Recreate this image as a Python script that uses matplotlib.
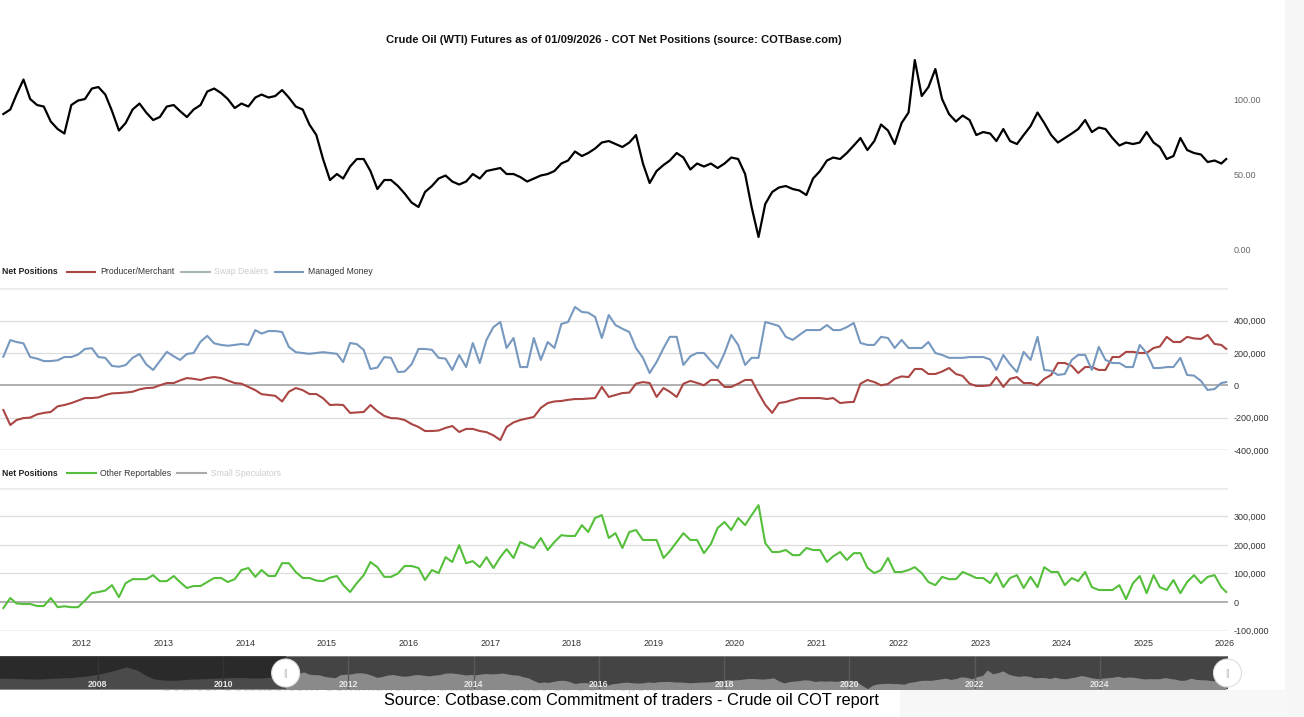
import numpy as np
import pandas as pd
import matplotlib
matplotlib.use('Agg')
import matplotlib.pyplot as plt
from matplotlib.patches import Ellipse, Rectangle
from matplotlib.lines import Line2D

# ---- data (monthly) ----
dates = list(pd.date_range('2011-01-01', '2025-12-01', freq='MS') + pd.Timedelta(days=14)) + [pd.Timestamp('2026-01-06')]

price = [90, 93, 103, 113, 100, 96, 95, 85, 80, 77, 96, 99,
         100, 107, 108, 103, 92, 79, 84, 93, 97, 91, 86, 88,
         95, 96, 92, 88, 93, 96, 105, 107, 104, 100, 94, 97,
         95, 101, 103, 101, 102, 106, 101, 95, 93, 83, 76, 60,
         46, 50, 47, 55, 60, 60, 52, 40, 46, 46, 42, 37,
         31, 28, 38, 42, 47, 49, 45, 43, 45, 50, 47, 52,
         53, 54, 50, 50, 48, 45, 47, 49, 50, 52, 57, 59,
         65, 62, 64, 67, 71, 72, 70, 68, 71, 76, 57, 44,
         52, 56, 59, 64, 61, 53, 57, 55, 57, 54, 57, 61,
         60, 50, 28, 8, 30, 38, 41, 42, 40, 39, 36, 47,
         52, 59, 61, 60, 64, 69, 74, 66, 72, 83, 79, 70,
         84, 91, 126, 102, 108, 120, 100, 90, 85, 89, 86, 76,
         78, 77, 72, 80, 72, 70, 76, 82, 91, 84, 76, 71,
         74, 77, 80, 86, 78, 81, 80, 74, 69, 71, 70, 71,
         78, 71, 68, 60, 62, 74, 66, 64, 63, 58, 59, 57,
         60]

producer = [-153, -246, -215, -203, -200, -180, -171, -165, -130, -122, -110, -95,
            -79, -79, -75, -60, -50, -48, -45, -40, -25, -17, -15, 0,
            14, 14, 30, 45, 40, 33, 45, 51, 45, 30, 14, 10,
            -10, -30, -55, -60, -65, -100, -40, -17, -30, -54, -54, -80,
            -122, -120, -122, -171, -168, -165, -122, -160, -190, -203, -205, -215,
            -240, -258, -283, -283, -280, -264, -252, -289, -270, -270, -283, -290,
            -310, -339, -258, -230, -215, -205, -196, -140, -110, -100, -97, -90,
            -85, -85, -82, -79, -10, -72, -60, -48, -45, 10, 20, 14,
            -72, -17, -40, -72, 10, 27, 15, 0, 33, 33, -10, -10,
            10, 33, 33, -48, -120, -171, -110, -103, -90, -79, -79, -79,
            -79, -85, -79, -110, -105, -103, 10, 33, 20, 0, 8, 40,
            55, 51, 101, 101, 70, 70, 85, 107, 70, 58, 10, -4,
            -4, 0, 51, -10, 40, 51, 14, 14, 0, 40, 64, 138,
            138, 120, 76, 113, 113, 95, 95, 175, 175, 207, 207, 200,
            200, 231, 240, 300, 268, 268, 300, 290, 287, 312, 256, 250,
            225]

managed_money = [177, 280, 268, 260, 175, 165, 150, 150, 155, 175, 175, 190,
                 225, 230, 175, 170, 120, 115, 125, 170, 194, 130, 95, 150,
                 207, 180, 157, 194, 200, 270, 306, 260, 250, 245, 250, 256,
                 250, 342, 320, 336, 336, 330, 238, 205, 200, 195, 200, 205,
                 200, 195, 144, 262, 255, 219, 101, 110, 175, 170, 82, 85,
                 130, 225, 225, 220, 170, 165, 95, 188, 113, 262, 138, 281,
                 360, 392, 231, 293, 113, 113, 293, 157, 268, 231, 380, 392,
                 485, 454, 450, 423, 293, 435, 373, 350, 330, 230, 170, 76,
                 144, 230, 300, 300, 126, 180, 200, 200, 150, 107, 200, 312,
                 250, 126, 170, 170, 392, 380, 367, 300, 281, 312, 342, 342,
                 342, 373, 342, 342, 360, 386, 262, 250, 250, 300, 293, 231,
                 281, 231, 231, 231, 268, 200, 188, 170, 170, 170, 175, 175,
                 175, 160, 95, 188, 130, 82, 207, 157, 300, 95, 90, 64,
                 70, 157, 188, 188, 95, 238, 157, 138, 138, 113, 113, 250,
                 200, 107, 107, 113, 113, 170, 64, 60, 27, -29, -23, 14,
                 20]

other_reportables = [-21, 14, -5, -7, -7, -14, -14, 14, -18, -15, -18, -18,
                     5, 31, 35, 40, 59, 17, 66, 80, 80, 80, 94, 73,
                     73, 91, 70, 49, 56, 56, 70, 84, 84, 70, 80, 112,
                     119, 88, 112, 91, 91, 136, 136, 105, 84, 84, 75, 73,
                     85, 91, 60, 35, 66, 94, 140, 122, 88, 88, 100, 126,
                     126, 119, 77, 112, 101, 157, 140, 199, 136, 143, 122, 157,
                     119, 157, 185, 154, 210, 199, 189, 224, 182, 210, 234, 231,
                     231, 269, 245, 294, 304, 224, 241, 189, 245, 252, 217, 217,
                     217, 154, 178, 210, 241, 217, 217, 171, 203, 259, 280, 252,
                     294, 269, 304, 339, 206, 175, 175, 182, 164, 164, 189, 182,
                     182, 140, 160, 175, 147, 171, 171, 120, 101, 112, 154, 105,
                     105, 112, 122, 101, 70, 59, 88, 80, 80, 105, 95, 84,
                     84, 66, 101, 52, 84, 94, 49, 88, 52, 122, 105, 105,
                     59, 84, 73, 105, 52, 42, 42, 42, 59, 10, 66, 91,
                     31, 94, 52, 42, 77, 31, 70, 94, 66, 88, 94, 52,
                     35]

nav_early_dates = pd.to_datetime(['2006-06-01', '2006-09-01', '2007-01-01', '2007-04-01', '2007-08-01',
                                  '2007-11-15', '2008-02-01', '2008-04-15', '2008-06-15', '2008-08-15',
                                  '2008-10-01', '2008-11-20', '2009-01-15', '2009-03-15', '2009-07-01',
                                  '2009-10-15', '2010-01-15', '2010-04-15', '2010-08-01', '2010-12-01'])
nav_early_price = [74, 72, 68, 72, 78, 90, 105, 125, 145, 125, 95, 70, 62, 60, 68, 72, 76, 78, 74, 85]

years = list(range(2012, 2027))
nav_years = list(range(2008, 2025, 2))

prod = np.array(producer) * 1000
mm = np.array(managed_money) * 1000
other = np.array(other_reportables) * 1000

# ---- figure ----
W, H = 1304, 717
plt.rcParams['font.family'] = ['Liberation Sans', 'DejaVu Sans']

fig = plt.figure(figsize=(W / 100, H / 100), dpi=100)
fig.patch.set_facecolor('white')

def fx(x):
    return x / W

def fy(y):
    return 1 - y / H

def add_ax(top, bottom, right=1228):
    return fig.add_axes([0, 1 - bottom / H, right / W, (bottom - top) / H])

xmin = pd.Timestamp('2010-12-31')
xmax = pd.Timestamp('2026-01-14')

# light grey page edges
fig.add_artist(Rectangle((fx(1285), 0), 1 - fx(1285), 1, transform=fig.transFigure,
                         color='#f6f6f6', zorder=-3))
fig.add_artist(Rectangle((fx(900), 0), fx(1285) - fx(900), fy(690),
                         transform=fig.transFigure, color='#f7f7f7', zorder=-3))

# title
fig.text(fx(614), fy(40), 'Crude Oil (WTI) Futures as of 01/09/2026 - COT Net Positions (source: COTBase.com)',
         ha='center', va='center', fontsize=8.1, fontweight='bold', color='#111111')

# ---- price panel ----
ax_p = add_ax(50, 255)
ax_p.plot(dates, price, color='black', lw=1.6)
ax_p.set_xlim(xmin, xmax)
ax_p.set_ylim(-4, 132.7)
ax_p.set_yticks([0, 50, 100])
ax_p.set_yticklabels(['0.00', '50.00', '100.00'])
ax_p.yaxis.tick_right()
ax_p.tick_params(axis='y', length=0, pad=4, labelsize=6.5, labelcolor='#666666')
ax_p.set_xticks([])
for s in ax_p.spines.values():
    s.set_visible(False)
ax_p.patch.set_alpha(0)


def style_cot(ax, lo, hi, step):
    ax.set_xlim(xmin, xmax)
    ax.set_ylim(lo, hi)
    ticks = list(range(lo, hi + 1, step))
    for v in ticks:
        if v == 0:
            ax.axhline(v, color='#aaaaaa', lw=1.3, zorder=1)
        elif v in (lo, hi):
            ax.axhline(v, color='#ebebeb', lw=1.8, zorder=1)
        else:
            ax.axhline(v, color='#dddddd', lw=0.9, zorder=1)
    ax.set_yticks(ticks)
    ax.set_yticklabels(['' if v == hi else f'{v:,}' for v in ticks])
    ax.yaxis.tick_right()
    ax.tick_params(axis='y', length=0, pad=4, labelsize=6.5, labelcolor='#333333')
    for s in ax.spines.values():
        s.set_visible(False)
    ax.patch.set_alpha(0)


# ---- COT panel 1 ----
ax1 = add_ax(288.4, 449.9)
style_cot(ax1, -400000, 600000, 200000)
ax1.plot(dates, prod, color='#AA4643', lw=1.5, zorder=3)
ax1.plot(dates, mm, color='#7798BF', lw=1.5, zorder=4)
ax1.set_xticks([])

# ---- COT panel 2 ----
ax2 = add_ax(487.7, 630.6)
style_cot(ax2, -100000, 400000, 100000)
ax2.plot(dates, other, color='#55BF3B', lw=1.5, zorder=3)
ax2.set_xticks([pd.Timestamp(f'{y}-01-01') for y in years])
ax2.set_xticklabels([str(y) for y in years])
ax2.tick_params(axis='x', length=0, pad=6, labelsize=6.5, labelcolor='#333333')


# ---- legends ----
def legend_row(y, items):
    fig.text(fx(2), fy(y), 'Net Positions', ha='left', va='center', fontsize=6.2,
             fontweight='bold', color='#222222')
    for x0, x1, tx, label, lc, tc in items:
        fig.add_artist(Line2D([fx(x0), fx(x1)], [fy(y), fy(y)], transform=fig.transFigure,
                              color=lc, lw=1.5))
        fig.text(fx(tx), fy(y), label, ha='left', va='center', fontsize=6.2, color=tc)


legend_row(272, [(67, 95, 100, 'Producer/Merchant', '#AA4643', '#333333'),
                 (181, 210, 214, 'Swap Dealers', '#a9b5b5', '#cccccc'),
                 (275, 303, 308, 'Managed Money', '#7798BF', '#333333')])
legend_row(473, [(67, 96, 100, 'Other Reportables', '#55BF3B', '#333333'),
                 (177, 206, 211, 'Small Speculators', '#aaaaaa', '#cccccc')])

# ghost source text behind navigator
fig.text(fx(408), fy(687), 'Source: Cotbase.com Commitment of traders - Crude oil COT report',
         ha='center', va='center', fontsize=11.8, color='#dadada', zorder=-1)

# ---- navigator ----
ax_n = add_ax(655.7, 689.3)
ax_n.set_facecolor('#444444')
nav_x = list(nav_early_dates) + dates
nav_y = nav_early_price + price
ax_n.fill_between(nav_x, 0, nav_y, color='#8a8a8a', lw=0)
nxmin = pd.Timestamp('2006-06-09')
nxmax = pd.Timestamp('2026-01-17')
ax_n.set_xlim(nxmin, nxmax)
ax_n.set_ylim(4, 215)
for y in nav_years:
    d = pd.Timestamp(f'{y}-01-01')
    ax_n.axvline(d, color='#5a5a5a', lw=1)
    ax_n.text(d, 36, str(y), ha='center', va='center', fontsize=6.3, fontweight='bold',
              color='#e6e6e6', zorder=5)
ax_n.axvspan(nxmin, xmin, color='#161616', alpha=0.55, lw=0, zorder=4)
ax_n.set_xticks([])
ax_n.set_yticks([])
for s in ax_n.spines.values():
    s.set_visible(False)
ax_n.axhline(215, color='#888888', lw=1.2)

# navigator handles
inv = fig.transFigure.inverted()
for d in (xmin, xmax):
    px = ax_n.transData.transform((matplotlib.dates.date2num(d), 0))[0]
    cx = inv.transform((px, 0))[0]
    fig.add_artist(Ellipse((cx, fy(673)), 28 / W, 28 / H, transform=fig.transFigure,
                           facecolor='white', edgecolor='#dddddd', lw=0.8, zorder=6))
    fig.text(cx, fy(673), '||', ha='center', va='center', fontsize=6.5, color='#bbbbbb', zorder=7)

# source line
fig.text(fx(631), fy(700), 'Source: Cotbase.com Commitment of traders - Crude oil COT report',
         ha='center', va='center', fontsize=11.8, color='black')

fig.savefig('out.png', dpi=100)
